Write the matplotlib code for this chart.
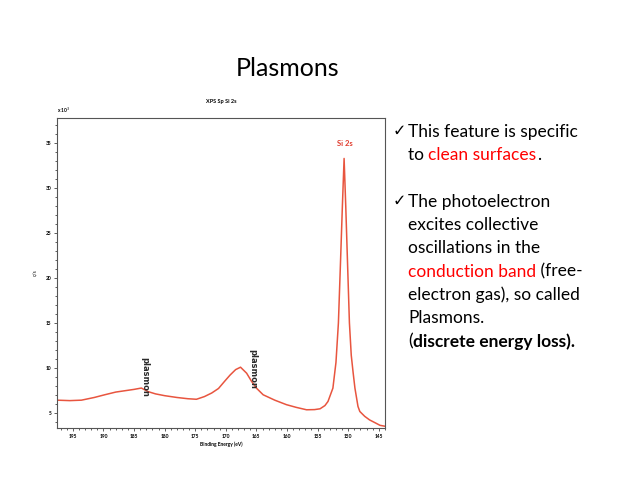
import matplotlib
matplotlib.use('Agg')
import matplotlib.pyplot as plt
from matplotlib.ticker import MultipleLocator

plt.rcParams['font.family'] = ['Lato', 'DejaVu Sans']

# spectrum: binding energy (eV) and counts (x10^3)
binding_energy = [197.6, 195.5, 193.6, 191.5, 189.8, 188.0, 186.5, 185.0, 183.8, 182.7,
                  181.5, 180.0, 178.0, 176.2, 174.8, 173.5, 172.3, 171.2, 170.2, 169.3,
                  168.4, 167.6, 166.6, 165.8, 165.0, 163.9, 162.0, 160.1, 158.5, 156.8,
                  155.5, 154.6, 153.8, 153.3, 152.5, 152.0, 151.6, 151.26, 150.95, 150.67,
                  150.4, 150.11, 149.8, 149.5, 149.2, 148.9, 148.4, 148.1, 147.3, 146.5,
                  145.5, 144.8, 144.0]
intensity = [6.4, 6.35, 6.4, 6.7, 7.0, 7.3, 7.45, 7.6, 7.75, 7.35,
             7.1, 6.9, 6.7, 6.56, 6.5, 6.8, 7.2, 7.7, 8.5, 9.2,
             9.8, 10.07, 9.4, 8.5, 7.74, 7.0, 6.4, 5.9, 5.6, 5.33,
             5.35, 5.44, 5.8, 6.26, 7.74, 10.6, 15.0, 21.7, 28.0, 33.3,
             28.0, 21.7, 15.0, 11.4, 9.5, 7.74, 5.7, 5.14, 4.6, 4.2,
             3.85, 3.6, 3.5]

x_ticks = [195, 190, 185, 180, 175, 170, 165, 160, 155, 150, 145]
y_ticks = [5, 10, 15, 20, 25, 30, 35]

plasmon_positions = [(183.2, 9.0), (165.6, 9.9)]
peak_label = ('Si 2s', 150.5, 35.0)

bullets = [
    [[('This feature is specific', 'black', 'normal')],
     [('to ', 'black', 'normal'), ('clean surfaces', '#ff0000', 'normal'), ('.', 'black', 'normal')]],
    [[('The photoelectron', 'black', 'normal')],
     [('excites collective', 'black', 'normal')],
     [('oscillations in the', 'black', 'normal')],
     [('conduction band', '#ff0000', 'normal'), (' (free-', 'black', 'normal')],
     [('electron gas), so called', 'black', 'normal')],
     [('Plasmons.', 'black', 'normal')],
     [('(', 'black', 'normal'), ('discrete energy loss).', 'black', 'bold')]],
]

fig = plt.figure(figsize=(6.38, 4.93), dpi=100)
fig.text(0.45, 0.862, 'Plasmons', fontsize=18, ha='center', va='center')

ax = fig.add_axes([0.0893, 0.1318, 0.514, 0.6288])
line_color = '#e8553f'
ax.plot(binding_energy, intensity, color=line_color, lw=1.1)
ax.set_xlim(197.6, 144.0)
ax.set_ylim(3.3, 37.8)
ax.set_xticks(x_ticks)
ax.set_yticks(y_ticks)
ax.xaxis.set_minor_locator(MultipleLocator(1))
ax.yaxis.set_minor_locator(MultipleLocator(1))
ax.tick_params(which='both', direction='out', labelsize=3.5, width=0.6, color='#444')
ax.tick_params(which='major', length=2.5, pad=1.5)
ax.tick_params(which='minor', length=1.5)
for lbl in ax.get_xticklabels() + ax.get_yticklabels():
    lbl.set_fontweight('bold')
for s in ax.spines.values():
    s.set_color('#555555')
    s.set_linewidth(0.8)
ax.set_title('XPS Sp Si 2s', fontsize=4, fontweight='bold', pad=11)
ax.set_xlabel('Binding Energy (eV)', fontsize=3.5, fontweight='bold', labelpad=2)
ax.set_ylabel('c/s', fontsize=3.5, labelpad=6)
ax.text(0.0, 1.01, r'x 10$^{3}$', transform=ax.transAxes, fontsize=3.5,
        fontweight='bold', ha='left', va='bottom')

for px, py in plasmon_positions:
    ax.text(px, py, 'plasmon', rotation=-90, fontsize=6, fontweight='bold',
            color='#2a2a2a', ha='center', va='center', family=['DejaVu Sans'])
ax.text(peak_label[1], peak_label[2], peak_label[0], fontsize=5.5, fontweight='bold',
        color='#e03a2c', ha='center', va='center')

# right hand bullet text, drawn word group by word group
renderer = fig.canvas.get_renderer()
fs = 12.5
line_h = 23.3
y_px = 493 - 131.7
for para in bullets:
    fig.text(393 / 638, y_px / 493, '\u2713', fontsize=fs - 1, va='center', ha='left',
             family=['DejaVu Sans'])
    for row in para:
        x_px = 408
        for txt, col, wt in row:
            t = fig.text(x_px / 638, y_px / 493, txt, fontsize=fs, color=col,
                         fontweight=wt, va='center', ha='left')
            x_px += t.get_window_extent(renderer).width
        y_px -= line_h
    y_px -= line_h

fig.savefig('out.png', dpi=100)
